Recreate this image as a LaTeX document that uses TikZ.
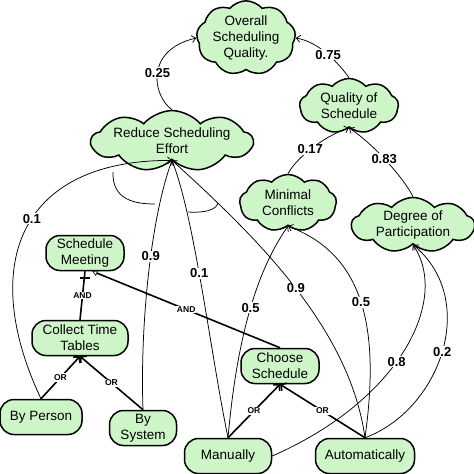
\documentclass[tikz,border=0pt]{standalone}
\usepackage{fontspec}
\setmainfont{Liberation Sans}
\usetikzlibrary{shapes.symbols,arrows.meta,calc}
\definecolor{goalgreen}{RGB}{205,245,200}

\begin{document}
\begin{tikzpicture}[x=1pt,y=-1pt,
    goal/.style={cloud, cloud puffs=9, cloud puff arc=100, cloud ignores aspect, draw, line width=1.5pt, fill=goalgreen, align=center, inner sep=0pt, font=\fontsize{13.5}{16}\selectfont},
    task/.style={rectangle, rounded corners=14pt, draw, line width=1.5pt, fill=goalgreen, align=center, inner xsep=8pt, inner ysep=2pt, minimum height=35pt, font=\fontsize{13.5}{16}\selectfont},
    contrib/.style={line width=0.75pt, -{Straight Barb[length=4pt,width=7pt]}},
    orlink/.style={line width=1.6pt, -{Straight Barb[length=4pt,width=9pt]}},
    andlink/.style={line width=1.6pt},
    lbl/.style={fill=white, inner sep=1pt, font=\fontsize{13}{14}\selectfont\bfseries},
    dlbl/.style={fill=white, inner sep=1pt, font=\fontsize{8.5}{10}\selectfont\bfseries}]
    \useasboundingbox (0,0) rectangle (474,474);

    \node[goal, minimum width=99pt, minimum height=70pt] (osq) at (246,38) {Overall\\Scheduling\\Quality.};
    \node[goal, minimum width=99pt, minimum height=55pt] (qos) at (349,106) {Quality of\\Schedule};
    \node[goal, minimum width=155pt, minimum height=52pt] (rse) at (172,141) {Reduce Scheduling\\Effort};
    \node[goal, minimum width=97pt, minimum height=57pt] (mc) at (288,203) {Minimal\\Conflicts};
    \node[goal, minimum width=123pt, minimum height=55pt] (dp) at (413,225) {Degree of\\Participation};

    \node[task, minimum width=78pt] (sm) at (85,253) {Schedule\\Meeting};
    \node[task, minimum width=96pt] (ctt) at (80,338) {Collect Time\\Tables};
    \node[task, minimum width=82pt] (bp) at (41,417) {By Person};
    \node[task, minimum width=67pt] (bs) at (143,428) {By\\System};
    \node[task, minimum width=78pt] (cs) at (280,366) {Choose\\Schedule};
    \node[task, minimum width=87pt] (man) at (228,456) {Manually};
    \node[task, minimum width=99pt] (aut) at (365,456) {Automatically};

    \draw[contrib] (rse.north) .. controls (152,95) and (145,50) .. node[lbl] {0.25} (osq.west);
    \draw[contrib] (qos.north) .. controls (340,65) and (320,42) .. node[lbl] {0.75} (osq.east);
    \draw[contrib] (mc.north) .. controls (295,160) and (320,138) .. node[lbl] {0.17} (qos.south);
    \draw[contrib] (dp.north) .. controls (405,180) and (375,145) .. node[lbl, pos=0.55] {0.83} (qos.south);

    \draw[contrib] (bp.north) .. controls (-20,270) and (15,160) .. node[lbl, pos=0.55] {0.1} (rse.south);
    \draw[contrib] (bs.north) .. controls (140,330) and (150,220) .. node[lbl, pos=0.58] {0.9} (rse.south);
    \draw[contrib] (man.north) .. controls (210,350) and (195,220) .. node[lbl, pos=0.55] {0.1} (rse.south);
    \draw[contrib] (aut.north) .. controls (350,330) and (260,240) .. node[lbl] {0.9} (rse.south);
    \draw[contrib] (man.north) .. controls (235,360) and (250,280) .. node[lbl, pos=0.57] {0.5} (mc.south);
    \draw[contrib] (aut.north) .. controls (380,330) and (365,255) .. node[lbl] {0.5} (mc.south);
    \draw[contrib] (man.east) .. controls (400,400) and (450,300) .. node[lbl, pos=0.45] {0.8} (dp.south);
    \draw[contrib] (aut.north) .. controls (440,410) and (480,300) .. node[lbl] {0.2} (dp.south);

    \draw[line width=0.75pt] (113,172) .. controls (112,200) and (135,204) .. (155,204);
    \draw[line width=0.75pt] (188,212) .. controls (205,213) and (216,210) .. (218,203);

    \draw[andlink] (ctt.north) -- node[dlbl] {AND} (sm.south);
    \draw[andlink] ($(sm.south)+(-5,7)$) -- ($(sm.south)+(5,7)$);
    \draw[andlink, -{Triangle[open,length=5pt,width=6pt,line width=0.6pt]}] (cs.north) -- node[dlbl] {AND} (sm.-68);

    \draw[orlink] (bp.north) -- node[dlbl] {OR} (ctt.south);
    \draw[orlink] (bs.north) -- node[dlbl] {OR} (ctt.south);
    \draw[orlink] (man.north) -- node[dlbl] {OR} (cs.south);
    \draw[orlink] (aut.north) -- node[dlbl] {OR} (cs.south);
\end{tikzpicture}
\end{document}
